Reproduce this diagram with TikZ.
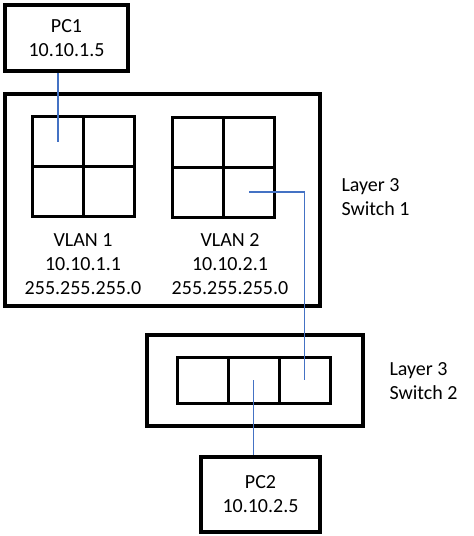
\documentclass[tikz,border=0pt]{standalone}
\usepackage{fontspec}
\setmainfont{Carlito}
\usetikzlibrary{positioning}
\definecolor{linkblue}{RGB}{68,114,196}

\begin{document}
\begin{tikzpicture}[x=1pt,y=-1pt,
    box/.style={draw,line width=3.5pt,inner sep=0pt,align=center,
      font=\fontsize{20}{24}\selectfont},
    port/.style={draw,line width=3pt,minimum width=51pt,minimum height=50pt,inner sep=0pt},
    link/.style={linkblue,line width=1.1pt},
    lbl/.style={align=center,font=\fontsize{20}{24}\selectfont}]
  \useasboundingbox (0,0) rectangle (474,536);
  % end devices
  \node[box,minimum width=123pt,minimum height=66pt] (pc1) at (66.5,38) {PC1\\10.10.1.5};
  \node[box,minimum width=119pt,minimum height=75pt] (pc2) at (260.5,494.5) {PC2\\10.10.2.5};
  % switch 1 with two vlans
  \node[box,minimum width=315pt,minimum height=212pt] (sw1) at (162.5,200) {};
  \node[port] (g1a) at (58,141.5) {};  \node[port] (g1b) at (109,141.5) {};
  \node[port] (g1c) at (58,191.5) {};  \node[port] (g1d) at (109,191.5) {};
  \node[port] (g2a) at (198,142) {};   \node[port] (g2b) at (249,142) {};
  \node[port] (g2c) at (198,192) {};   \node[port] (g2d) at (249,192) {};
  \node[lbl] (v1) at (83,264) {VLAN 1\\10.10.1.1\\255.255.255.0};
  \node[lbl] (v2) at (230,264) {VLAN 2\\10.10.2.1\\255.255.255.0};
  \node[lbl,align=left,anchor=west] (l1) at (338,197) {Layer 3\\Switch 1};
  % switch 2
  \node[box,minimum width=216pt,minimum height=91pt] (sw2) at (255,380.5) {};
  \foreach \n/\x in {a/202.5,b/253.5,c/304.5}
    \node[port,minimum height=46pt] (s2\n) at (\x,380) {};
  \node[lbl,align=left,anchor=west] (l2) at (386,381) {Layer 3\\Switch 2};
  % links
  \draw[link] (g1a.center |- pc1.south) -- (g1a.center);
  \draw[link] (g2d.center) -| (s2c.center);
  \draw[link] (s2b.center) -- (s2b.center |- pc2.north);
\end{tikzpicture}
\end{document}
